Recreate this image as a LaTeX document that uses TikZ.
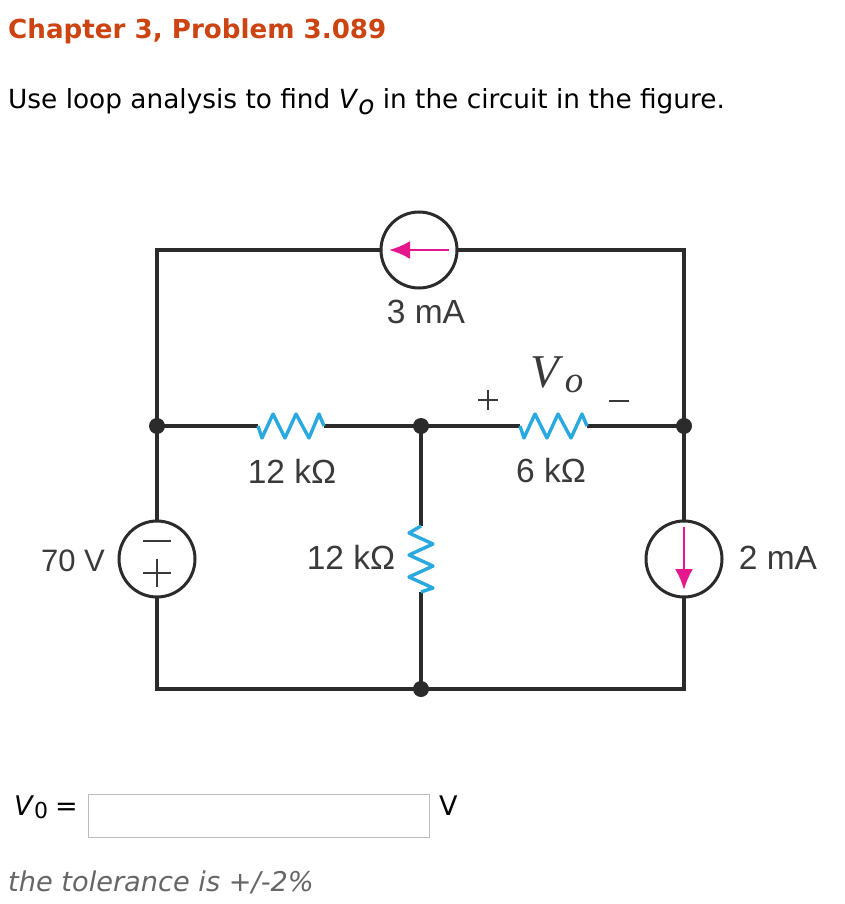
\documentclass[tikz,border=0pt]{standalone}
\usepackage{fontspec}
\setmainfont{DejaVu Sans}
\newfontfamily\figfont{Liberation Sans}
\newfontfamily\figserif{Liberation Serif}
\usetikzlibrary{arrows.meta}
\definecolor{titlecol}{HTML}{CC4411}
\definecolor{wirecol}{HTML}{2B2B2B}
\definecolor{rescol}{HTML}{2AA9E0}
\definecolor{arrowcol}{HTML}{E6178C}
\definecolor{labelcol}{HTML}{3A3A3A}
\definecolor{tolcol}{HTML}{666666}
\definecolor{boxcol}{HTML}{BDBDBD}
\tikzset{
  x=1pt,y=-1pt,
  wire/.style={draw=wirecol,line width=3.4pt,line cap=butt,line join=miter},
  res/.style={draw=rescol,line width=3.4pt,line join=round},
  srcnode/.style={circle,draw=wirecol,line width=3pt,fill=white,minimum size=76pt,inner sep=0pt},
  junction/.style={circle,fill=wirecol,minimum size=16pt,inner sep=0pt},
  figlabel/.style={font=\figfont\fontsize{33.5}{36}\selectfont,text=labelcol,inner sep=0pt},
  signlabel/.style={draw=labelcol,line width=2pt},
  currentarrow/.style={draw=arrowcol,line width=2.6pt,-{Latex[length=21pt,width=18pt]}},
  htmltext/.style={anchor=base west,inner sep=0pt,text=black},
}
\begin{document}
\begin{tikzpicture}
\useasboundingbox (0,0) rectangle (844,904);
% heading text
\node[htmltext,text=titlecol,font=\bfseries\fontsize{26.15}{30}\selectfont] (title) at (8,39) {Chapter 3, Problem 3.089};
\node[htmltext,font=\fontsize{26.35}{30}\selectfont] (question) at (8,109) {Use loop analysis to find \textit{V}\raisebox{-6pt}{\textit{o}} in the circuit in the figure.};
% circuit nodes
\coordinate (tl) at (157,250);
\coordinate (tr) at (684,250);
\coordinate (bl) at (157,689);
\coordinate (br) at (684,689);
\node[junction] (jl) at (157,426) {};
\node[junction] (jm) at (421,426) {};
\node[junction] (jr) at (684,426) {};
\node[junction] (jb) at (421,689) {};
\coordinate (r1a) at (258,426);
\coordinate (r1b) at (324,426);
\coordinate (r2a) at (520,426);
\coordinate (r2b) at (587,426);
\coordinate (r3a) at (421,526);
\coordinate (r3b) at (421,592);
% wires
\draw[wire] (jr.center) -- (tr) -- (tl) -- (jl.center);
\draw[wire] (jl.center) -- (r1a);
\draw[wire] (r1b) -- (jm.center);
\draw[wire] (jm.center) -- (r2a);
\draw[wire] (r2b) -- (jr.center);
\draw[wire] (jm.center) -- (r3a);
\draw[wire] (r3b) -- (jb.center);
\draw[wire] (jl.center) -- (bl) -- (br) -- (jr.center);
% sources
\node[srcnode] (is3) at (419,250) {};
\node[srcnode] (vs) at (157,559) {};
\node[srcnode] (is2) at (684,559) {};
\coordinate (is3t) at (449,250);
\coordinate (is3h) at (389,250);
\coordinate (is2t) at (684,527);
\coordinate (is2h) at (684,590);
\draw[currentarrow] (is3t) -- (is3h);
\draw[currentarrow] (is2t) -- (is2h);
% source signs
\draw[signlabel] ([shift={(-14,-18)}]vs.center) -- ++(28,0);
\draw[signlabel] ([shift={(-14,14)}]vs.center) -- ++(28,0);
\draw[signlabel] ([shift={(0,0)}]vs.center) -- ++(0,28);
% resistors
\draw[res] (r1a) -- ++(4,12) -- ++(11,-24) -- ++(12,24) -- ++(11,-24) -- ++(13,24) -- ++(10,-24) -- (r1b);
\draw[res] (r2a) -- ++(4,12) -- ++(11,-24) -- ++(12,24) -- ++(11,-24) -- ++(13,24) -- ++(11,-24) -- (r2b);
\draw[res] (r3a) -- ++(-12,7) -- ++(24,11) -- ++(-24,11) -- ++(24,11) -- ++(-24,11) -- ++(24,11) -- (r3b);
% labels
\node[figlabel] (l3ma) at (426,312) {3 mA};
\node[figlabel] (l12a) at (292,471) {12 kΩ};
\node[figlabel] (l6) at (551,471) {6 kΩ};
\node[figlabel] (l12b) at (351,557) {12 kΩ};
\node[figlabel,font=\figfont\fontsize{31}{36}\selectfont] (l70) at (73,561) {70 V};
\node[figlabel] (l2ma) at (778,558) {2 mA};
\node[text=labelcol,inner sep=0pt,font=\figserif\itshape\fontsize{47}{50}\selectfont] (lV) at (545,372) {V};
\node[text=labelcol,inner sep=0pt,font=\figserif\itshape\fontsize{37}{40}\selectfont] (lo) at (574,384) {o};
\coordinate (plus) at (488,400);
\coordinate (minus) at (619,401);
\draw[signlabel] ([shift={(-10,0)}]plus) -- ++(20,0);
\draw[signlabel] ([shift={(0,-10)}]plus) -- ++(0,20);
\draw[signlabel] ([shift={(-10,0)}]minus) -- ++(20,0);
% answer row
\node[htmltext,font=\fontsize{27}{30}\selectfont] (ansv) at (14,815) {\textit{V}\raisebox{-3pt}{\fontsize{22}{24}\selectfont 0}\hspace{7pt}=};
\node[draw=boxcol,line width=1.2pt,fill=white,minimum width=341pt,minimum height=43pt,inner sep=0pt] (ansbox) at (259,816) {};
\node[htmltext,font=\fontsize{27}{30}\selectfont] (unit) at (439,815) {V};
\node[htmltext,text=tolcol,font=\itshape\fontsize{27.2}{30}\selectfont] (tol) at (8,891) {the tolerance is +/-2\%};
\end{tikzpicture}
\end{document}
